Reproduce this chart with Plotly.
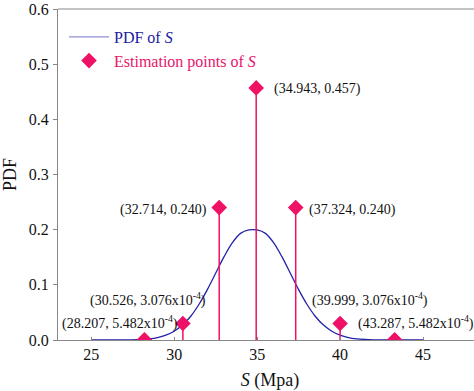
import plotly.graph_objects as go

# PDF curve
pdf_x = [25, 25.5, 26, 26.5, 27, 27.5, 28, 28.5, 29, 29.5, 30, 30.5, 31, 31.5, 32, 32.5, 33, 33.5, 34, 34.5,
         35, 35.5, 36, 36.5, 37, 37.5, 38, 38.5, 39, 39.5, 40, 40.5, 41, 41.5, 42, 42.5, 43, 43.5, 44, 44.5, 45]
pdf_y = [0.0000, 0.0000, 0.0001, 0.0001, 0.0002, 0.0004, 0.0010, 0.0022, 0.0045, 0.0088, 0.0159, 0.0270,
         0.0431, 0.0648, 0.0913, 0.1210, 0.1506, 0.1760, 0.1933, 0.1995,
         0.1995, 0.1933, 0.1760, 0.1506, 0.1210, 0.0913, 0.0648, 0.0431, 0.0270, 0.0159, 0.0088,
         0.0045, 0.0022, 0.0010, 0.0004, 0.0002, 0.0001, 0.0001, 0.0000, 0.0000, 0.0000]

# Estimation points
est_x = [28.207, 30.526, 32.714, 34.943, 37.324, 39.999, 43.287]
est_y = [0.0005, 0.030, 0.240, 0.457, 0.240, 0.030, 0.0005]
est_labels = ["(28.207, 5.482x10<sup>-4</sup>)", "(30.526, 3.076x10<sup>-4</sup>)", "(32.714, 0.240)",
              "(34.943, 0.457)", "(37.324, 0.240)", "(39.999, 3.076x10<sup>-4</sup>)",
              "(43.287, 5.482x10<sup>-4</sup>)"]

x_ticks = [25, 30, 35, 40, 45]
y_ticks = [0.0, 0.1, 0.2, 0.3, 0.4, 0.5, 0.6]

BLUE = "#2222aa"
PINK = "#ee1166"
AXIS = "#888888"
FONT = "Liberation Serif"

fig = go.Figure()
fig.add_trace(go.Scatter(x=pdf_x, y=pdf_y, mode="lines", line=dict(color=BLUE, width=1.3, shape="spline"),
                         showlegend=False))
fig.add_trace(go.Scatter(x=[None], y=[None], mode="lines", line=dict(color="#8f8fd6", width=1.2),
                         name="<span style='color:#1a1aa6'>PDF of <i>S</i></span>"))
fig.add_trace(go.Scatter(x=est_x, y=est_y, mode="markers",
                         marker=dict(symbol="diamond", size=12, color=PINK),
                         error_y=dict(type="data", symmetric=False, array=[0] * len(est_y),
                                      arrayminus=est_y, width=0, thickness=1.5, color=PINK),
                         name="<span style='color:#e8146a'>Estimation points of <i>S</i></span>"))

offsets = [("center", -24, 17), ("right", 25, 24), ("right", -10, -2), ("left", 16, -1),
           ("left", 11, -2), ("left", -30, 24), ("left", -39, 17)]
for xv, yv, lab, (anc, dx, dy) in zip(est_x, est_y, est_labels, offsets):
    fig.add_annotation(x=xv, y=yv, text=lab, showarrow=False, xanchor=anc, yanchor="middle",
                       xshift=dx, yshift=dy, font=dict(family=FONT, size=14, color="#111"))

# top frame line
fig.add_shape(type="line", xref="paper", yref="paper", x0=0, x1=1, y0=1, y1=1,
              line=dict(color=AXIS, width=1))

# plot area runs past the right edge of the window (cropped like the reference)
fig.update_layout(
    width=482, height=391,
    margin=dict(l=58, r=0, t=9, b=51),
    paper_bgcolor="white", plot_bgcolor="white",
    font=dict(family=FONT, size=16, color="#111"),
    legend=dict(x=0.0142, y=0.967, xanchor="left", yanchor="top", bgcolor="rgba(0,0,0,0)",
                font=dict(family=FONT, size=16), itemwidth=40, tracegroupgap=2),
    xaxis=dict(range=[23, 48.55], tickvals=x_ticks, showgrid=False, zeroline=False,
               showline=True, linecolor=AXIS, linewidth=1, mirror=False,
               ticks="inside", ticklen=3, tickcolor=AXIS, automargin=False,
               title=dict(text="<i>S</i> (Mpa)", font=dict(size=18), standoff=15),
               tickfont=dict(size=16)),
    yaxis=dict(range=[0, 0.6], tickvals=y_ticks, tickformat=".1f", showgrid=False, zeroline=False,
               showline=True, linecolor=AXIS, linewidth=1, automargin=False, mirror=False,
               ticks="outside", ticklen=4, tickcolor=AXIS, ticklabelstandoff=1,
               title=dict(text="PDF", font=dict(size=18), standoff=14),
               tickfont=dict(size=16)),
)

fig.write_html("out.html", config={"displayModeBar": False},
               post_script="document.body.style.margin='0px';document.body.style.overflow='hidden';"
                           "document.documentElement.style.overflow='hidden';")
